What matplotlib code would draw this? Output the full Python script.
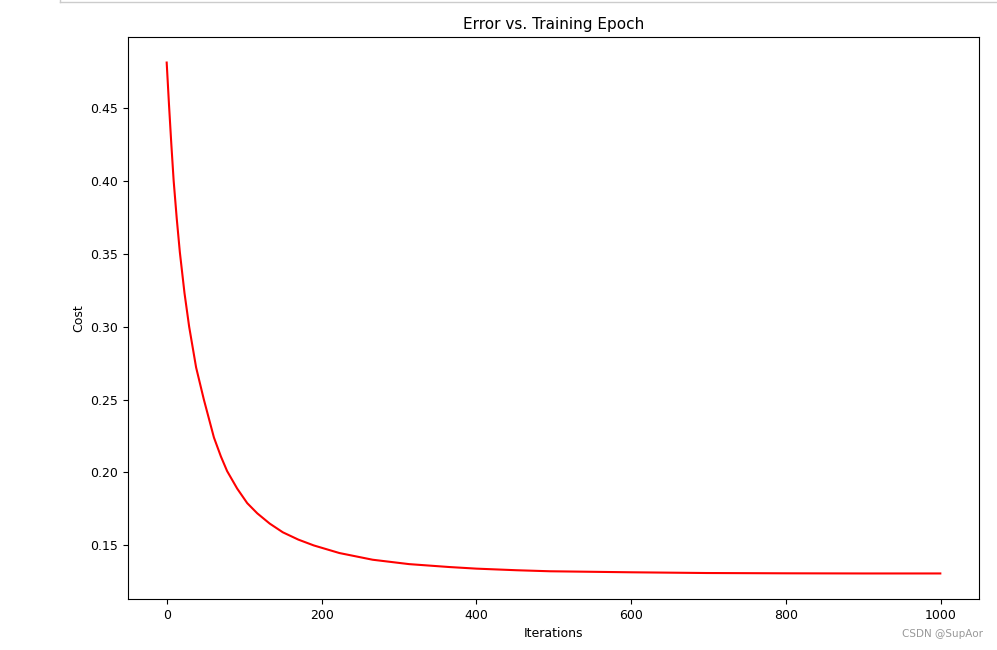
import matplotlib
matplotlib.use("Agg")
import matplotlib.pyplot as plt
from matplotlib.lines import Line2D

# cost per iteration
iters = [0, 3, 6, 9, 13, 17, 23, 29, 38, 48, 61, 70, 78, 91, 104, 117, 133,
         150, 170, 190, 223, 266, 313, 365, 400, 452, 495, 600, 697, 800,
         900, 999]
cost = [0.481, 0.452, 0.425, 0.400, 0.374, 0.351, 0.323, 0.300, 0.272,
        0.250, 0.224, 0.211, 0.201, 0.189, 0.179, 0.172, 0.165, 0.159,
        0.154, 0.150, 0.1448, 0.1402, 0.1372, 0.1352, 0.1341, 0.1330,
        0.1323, 0.1316, 0.1311, 0.1309, 0.1308, 0.1308]

W, H = 997, 650


def main():
    fig = plt.figure(figsize=(W / 100, H / 100), dpi=100)
    ax = fig.add_axes([128 / W, 1 - 599 / H, (979 - 128) / W, (599 - 37) / H])

    ax.plot(iters, cost, "r", linewidth=1.5)

    ax.set_xlabel("Iterations", fontsize=9)
    ax.set_ylabel("Cost", fontsize=9)
    ax.set_title("Error vs. Training Epoch", fontsize=11)
    ax.tick_params(labelsize=9)

    # screenshot frame edge at the top
    fig.add_artist(Line2D([60 / W, 1], [1 - 2 / H, 1 - 2 / H], color="#cccccc", linewidth=1))
    fig.add_artist(Line2D([60 / W, 60 / W], [1 - 2 / H, 1], color="#cccccc", linewidth=1))

    fig.text(983 / W, 1 - 634 / H, "CSDN @SupAor", ha="right", va="center",
             fontsize=7.5, color="#999999")

    fig.savefig("out.png", dpi=100)


if __name__ == "__main__":
    main()
